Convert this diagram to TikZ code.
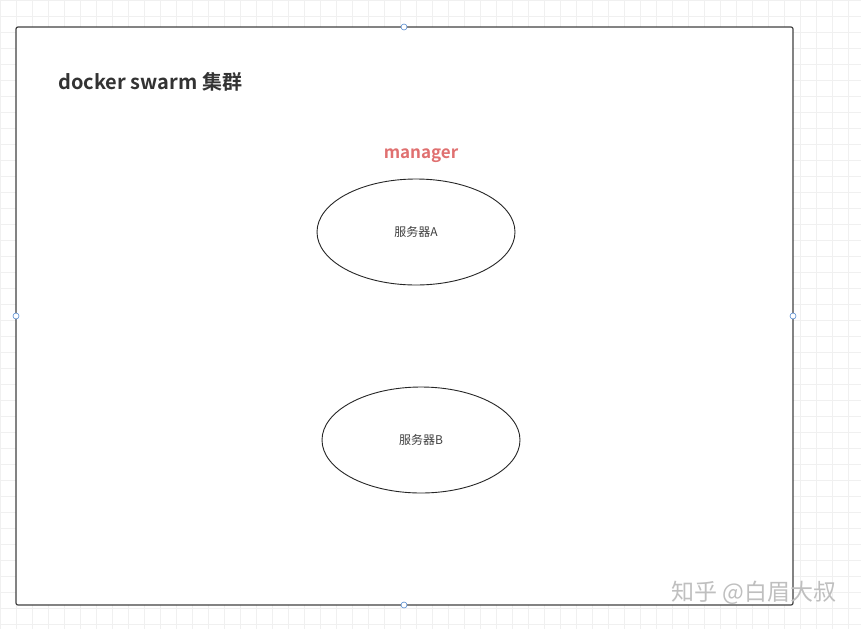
\documentclass[tikz,border=0pt]{standalone}
\usepackage{fontspec}
\usetikzlibrary{shapes.geometric}
\setmainfont{Noto Sans CJK SC}
\newfontfamily\cjkb{Noto Sans CJK SC Bold}
\begin{document}
\begin{tikzpicture}[x=1pt,y=-1pt,
  srv/.style={ellipse,draw=black!85,line width=0.9pt,minimum width=198pt,minimum height=106pt,font=\fontsize{12}{14}\selectfont,text=black!75},
  handle/.style={circle,draw=cyan!50!blue!70,fill=white,inner sep=0pt,minimum size=6pt,line width=0.6pt}]
\useasboundingbox (0,0) rectangle (861,629);
\foreach \x in {0,16,...,861} \draw[black!6,line width=0.6pt] (\x,0) -- (\x,629);
\foreach \y in {0,16,...,629} \draw[black!6,line width=0.6pt] (0,\y) -- (861,\y);
\fill[white] (16,27) rectangle (793,605);
\draw[black!75,line width=1.2pt,rounded corners=2pt] (16,27) rectangle (793,605);
\node[anchor=west,font=\cjkb\fontsize{20}{24}\selectfont,text=black!80] (title) at (55,82) {docker swarm 集群};
\node[font=\cjkb\fontsize{17}{20}\selectfont,text={rgb,255:red,224;green,112;blue,112}] (mgr) at (421,156) {manager};
\node[srv] (a) at (416,232) {服务器A};
\node[srv] (b) at (421,440) {服务器B};
\node[handle] (h1) at (404,27) {};
\node[handle] (h2) at (404,605) {};
\node[handle] (h3) at (16,316) {};
\node[handle] (h4) at (793,316) {};
\node[anchor=east,font=\fontsize{23}{26}\selectfont,text=black!25] (wm) at (840,593) {知乎 @白眉大叔};
\end{tikzpicture}
\end{document}
